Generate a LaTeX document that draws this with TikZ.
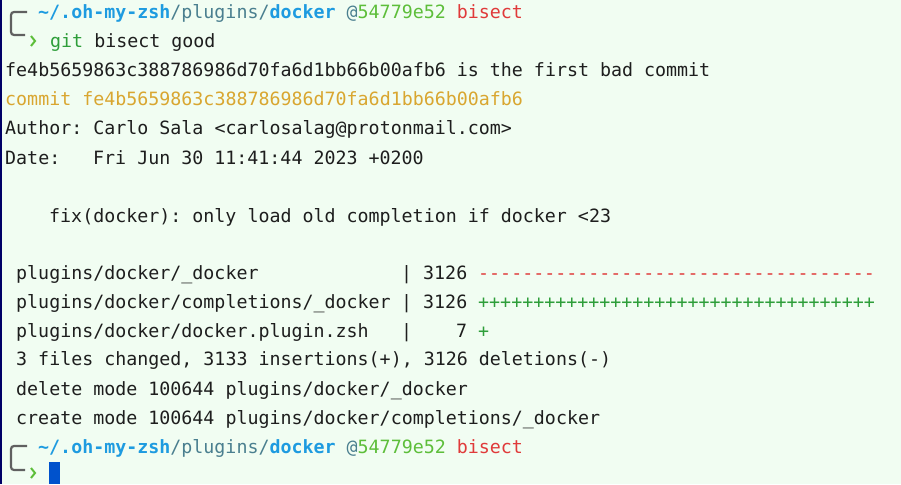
\documentclass[tikz,border=0pt]{standalone}
\usepackage{fontspec}
\setmonofont{DejaVu Sans Mono}
\definecolor{pblue}{HTML}{1E9BE0}
\definecolor{pteal}{HTML}{4A7F8F}
\definecolor{pgreen}{HTML}{5DBE3A}
\definecolor{pred}{HTML}{E03A3A}
\definecolor{pyel}{HTML}{D9A630}
\definecolor{dgreen}{HTML}{2E9E3A}
\definecolor{txt}{HTML}{1E1E1E}
\definecolor{brk}{HTML}{606060}
\begin{document}
\begin{tikzpicture}[x=1pt,y=-1pt,
  t/.style={inner sep=0pt,anchor=base west,font=\ttfamily\fontsize{18.3}{20}\selectfont,text=txt},
  brack/.style={draw=brk,line width=2.2pt,rounded corners=3pt},
  chev/.style={draw=pgreen,line width=2pt}]
\fill[white] (0,0) rectangle (901,484);
\fill[white!93!blue!60!green!30] (0,0) rectangle (901,484);
\fill[white,opacity=0.6] (0,0) rectangle (901,484);
\fill[black!60!blue] (0,0) rectangle (2,484);
\useasboundingbox (0,0) rectangle (901,484);
\def\C#1{\fpeval{5+#1*11}}
% prompt 1
\draw[brack] (27,12) -- (11,12) -- (11,35) -- (25,35);
\draw[chev] (31,36) -- (35,41) -- (31,46);
\node[t] (p1) at (38,19) {\textcolor{pblue}{\bfseries\char`~/.oh-my-zsh}\textcolor{pteal}{/plugins/}\textcolor{pblue}{\bfseries docker} \textcolor{pteal}{@}\textcolor{pgreen}{54779e52} \textcolor{pred}{bisect}};
\node[t] (cmd) at (50,48) {\textcolor{dgreen}{git} bisect good};
\node[t] (l3) at (5,77) {fe4b5659863c388786986d70fa6d1bb66b00afb6 is the first bad commit};
\node[t,text=pyel] (l4) at (5,106) {commit fe4b5659863c388786986d70fa6d1bb66b00afb6};
\node[t] (l5) at (5,135) {Author: Carlo Sala <carlosalag@protonmail.com>};
\node[t] (l6a) at (5,164) {Date:};
\node[t] (l6b) at (93,164) {Fri Jun 30 11:41:44 2023 +0200};
\node[t] (l8) at (49,222) {fix(docker): only load old completion if docker <23};
\node[t] (s1a) at (16,279) {plugins/docker/\_docker};
\node[t] (s1b) at (401,279) {|};
\node[t] (s1c) at (423,279) {3126};
\node[t,text=pred] (s1d) at (478,279) {------------------------------------};
\node[t] (s2a) at (16,308) {plugins/docker/completions/\_docker};
\node[t] (s2b) at (401,308) {|};
\node[t] (s2c) at (423,308) {3126};
\node[t,text=dgreen] (s2d) at (478,308) {++++++++++++++++++++++++++++++++++++};
\node[t] (s3a) at (16,337) {plugins/docker/docker.plugin.zsh};
\node[t] (s3b) at (401,337) {|};
\node[t] (s3c) at (456,337) {7};
\node[t,text=dgreen] (s3d) at (478,337) {+};
\node[t] (s4) at (16,365) {3 files changed, 3133 insertions(+), 3126 deletions(-)};
\node[t] (s5) at (16,395) {delete mode 100644 plugins/docker/\_docker};
\node[t] (s6) at (16,424) {create mode 100644 plugins/docker/completions/\_docker};
% prompt 2
\draw[brack] (27,446) -- (11,446) -- (11,470) -- (25,470);
\draw[chev] (31,468) -- (35,473) -- (31,478);
\node[t] (p2) at (38,453) {\textcolor{pblue}{\bfseries\char`~/.oh-my-zsh}\textcolor{pteal}{/plugins/}\textcolor{pblue}{\bfseries docker} \textcolor{pteal}{@}\textcolor{pgreen}{54779e52} \textcolor{pred}{bisect}};
\fill[blue!60!cyan!80!black] (49,462) rectangle (60,484);
\end{tikzpicture}
\end{document}
